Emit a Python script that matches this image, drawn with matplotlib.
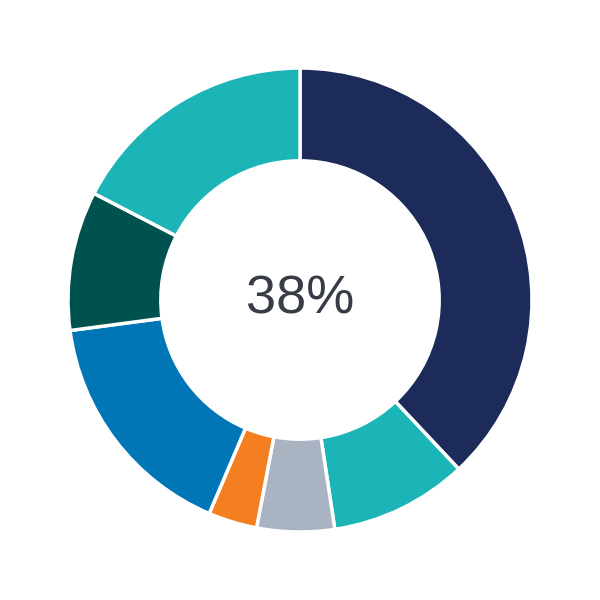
import matplotlib
matplotlib.use("Agg")
import matplotlib.pyplot as plt

labels = ["A", "B", "C", "D", "E", "F", "G"]
values = [38, 9.6, 5.4, 3.4, 16.5, 9.7, 17.4]
colors = ["#1c2b5a", "#1bb5b7", "#a9b3c1", "#f47f20", "#0076b6", "#00524f", "#1bb5b7"]
center_label = "38%"

fig = plt.figure(figsize=(6, 6), dpi=100)
ax = fig.add_axes([0, 0, 1, 1])
ax.pie(values, colors=colors, startangle=90, counterclock=False, radius=1.0,
       wedgeprops=dict(width=0.4, edgecolor="white", linewidth=2.5))
lim = 300 / 232
ax.set_xlim(-lim, lim)
ax.set_ylim(-lim, lim)
ax.set_aspect("equal")
ax.axis("off")
ax.text(0, 0, center_label, ha="center", va="center", fontsize=39,
        color="#373c47", family=["Liberation Sans", "DejaVu Sans"])
fig.savefig("out.png", dpi=100, facecolor="white")
